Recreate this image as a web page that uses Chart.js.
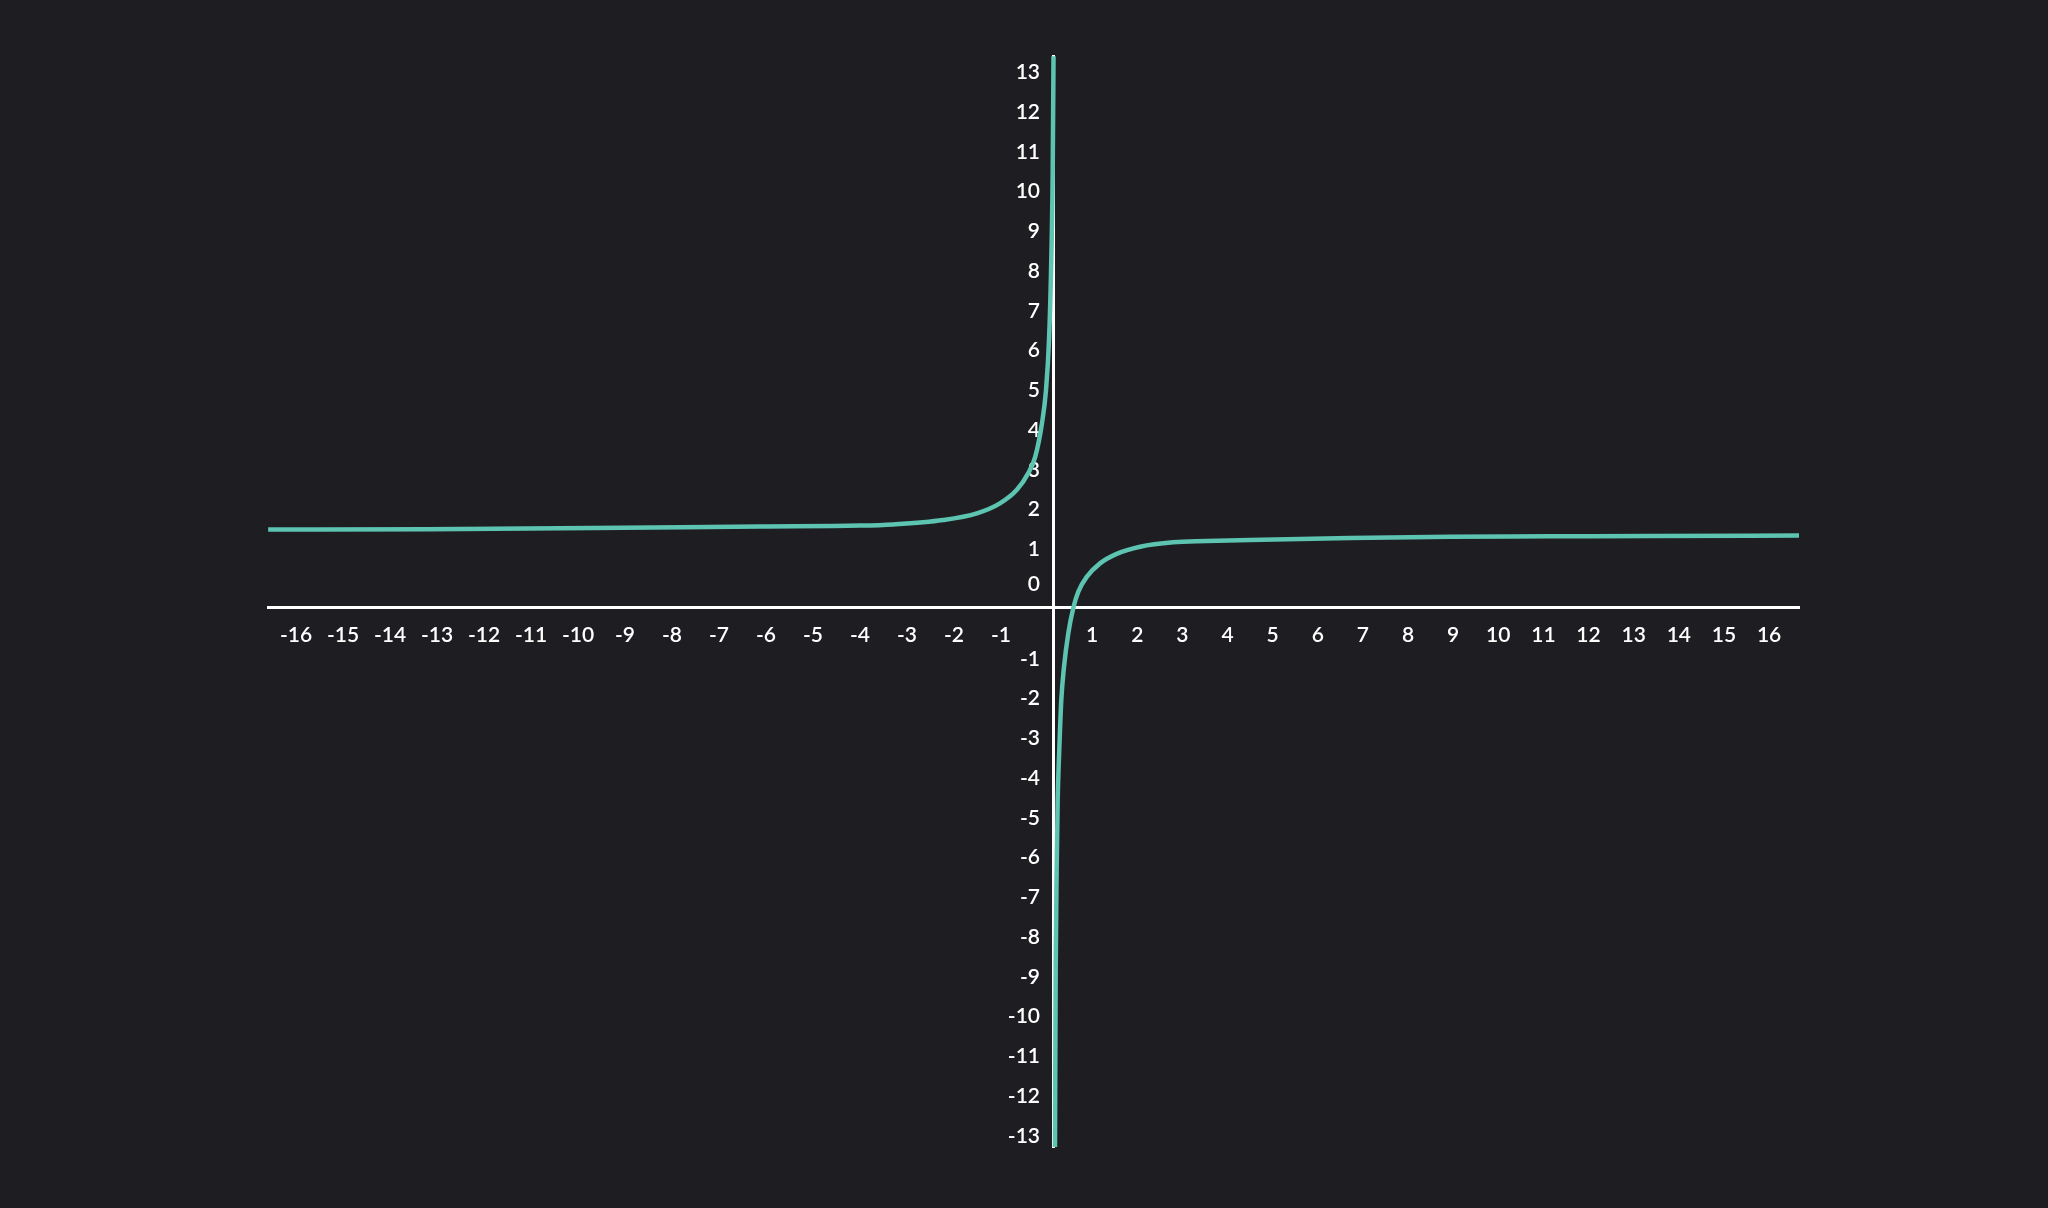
<!DOCTYPE html>
<html>
<head>
<meta charset="utf-8">
<script src="https://cdn.jsdelivr.net/npm/chart.js@4.4.1/dist/chart.umd.min.js"></script>
<style>
  html, body { margin: 0; padding: 0; background: #1e1e22; }
  #wrap { width: 2048px; height: 1208px; position: relative; }
</style>
</head>
<body>
<div id="wrap"><canvas id="grafico"></canvas></div>
<script>
// ramo esquerdo (x < 0)
const leftX = [-16.72, -13.34, -9.81, -6.26, -4.13, -3.42, -2.36, -1.64, -1.15, -0.79, -0.547, -0.40, -0.255, -0.17, -0.106, -0.064, -0.028, -0.01];
const leftY = [1.96, 1.97, 2.00, 2.04, 2.06, 2.09, 2.20, 2.37, 2.62, 2.96, 3.38, 3.79, 4.64, 5.47, 6.73, 8.41, 10.92, 13.87];

// ramo direito (x > 0)
const rightX = [0.022, 0.038, 0.060, 0.082, 0.117, 0.162, 0.222, 0.317, 0.43, 0.54, 0.725, 1.02, 1.39, 1.91, 2.64, 3.38, 4.34, 6.56, 8.77, 10.99, 13.21, 16.51];
const rightY = [-13.57, -9.04, -6.52, -4.84, -3.59, -2.33, -1.49, -0.65, 0.0, 0.40, 0.77, 1.11, 1.35, 1.53, 1.64, 1.67, 1.70, 1.75, 1.78, 1.79, 1.80, 1.81];

// marcas dos eixos
const xNegTicks = [-16, -15, -14, -13, -12, -11, -10, -9, -8, -7, -6, -5, -4, -3, -2, -1];
const xPosTicks = [1, 2, 3, 4, 5, 6, 7, 8, 9, 10, 11, 12, 13, 14, 15, 16];
const yPosTicks = [1, 2, 3, 4, 5, 6, 7, 8, 9, 10, 11, 12, 13];
const yNegTicks = [-1, -2, -3, -4, -5, -6, -7, -8, -9, -10, -11, -12, -13];
const yZeroTicks = [0];

const CURVE = '#5cc4b1';
const AXIS = '#ffffff';
const FONT = { family: 'Lato', size: 21, weight: '600' };

const Y_MIN = -13.572;
const Y_MAX = 13.874;
// rótulos do eixo y ficam um pouco à esquerda da linha (em unidades de x)
const Y_LABEL_X = -0.298;

function toPoints(xs, ys) {
  return xs.map((x, i) => ({ x, y: ys[i] }));
}

function onlyTicks(list) {
  return value => (list.includes(value) ? String(value) : null);
}

function axis(config) {
  return {
    type: 'linear',
    display: true,
    min: config.min,
    max: config.max,
    position: config.position,
    grid: { display: false, drawTicks: false },
    border: config.border
      ? { display: true, color: AXIS, width: 3 }
      : { display: false },
    ticks: {
      display: Boolean(config.ticks),
      stepSize: 1,
      includeBounds: false,
      autoSkip: false,
      maxRotation: 0,
      minRotation: 0,
      color: AXIS,
      font: FONT,
      padding: config.padding || 0,
      labelOffset: config.offset || 0,
      callback: onlyTicks(config.ticks || [])
    }
  };
}

function renderGrafico() {
  const ctx = document.getElementById('grafico');

  new Chart(ctx, {
    type: 'scatter',
    data: {
      datasets: [
        {
          data: toPoints(leftX, leftY),
          xAxisID: 'x',
          yAxisID: 'y'
        },
        {
          data: toPoints(rightX, rightY),
          xAxisID: 'xp',
          yAxisID: 'y'
        }
      ].map(ds => ({
        ...ds,
        showLine: true,
        borderColor: CURVE,
        borderWidth: 4.5,
        pointRadius: 0,
        cubicInterpolationMode: 'monotone'
      }))
    },
    options: {
      responsive: true,
      maintainAspectRatio: false,
      animation: false,
      layout: { padding: { left: 268, right: 249, top: 56, bottom: 61 } },
      plugins: {
        legend: { display: false },
        tooltip: { enabled: false }
      },
      scales: {
        x: axis({
          min: -16.723, max: 15.851, position: { y: 0 }, border: true,
          ticks: xNegTicks, padding: 15, offset: -6
        }),
        xp: axis({
          min: -17.416, max: 16.508, position: { y: 0 },
          ticks: xPosTicks, padding: 15, offset: -7
        }),
        y: axis({ min: Y_MIN, max: Y_MAX, position: { x: 0 }, border: true }),
        yp: axis({
          min: Y_MIN, max: Y_MAX, position: { x: Y_LABEL_X },
          ticks: yPosTicks, offset: -18.5
        }),
        yn: axis({
          min: Y_MIN, max: Y_MAX, position: { x: Y_LABEL_X },
          ticks: yNegTicks, offset: 11.5
        }),
        y0: axis({
          min: Y_MIN, max: Y_MAX, position: { x: Y_LABEL_X },
          ticks: yZeroTicks, offset: -23.5
        })
      }
    }
  });
}

document.fonts.load('600 21px Lato').finally(renderGrafico);
</script>
</body>
</html>
